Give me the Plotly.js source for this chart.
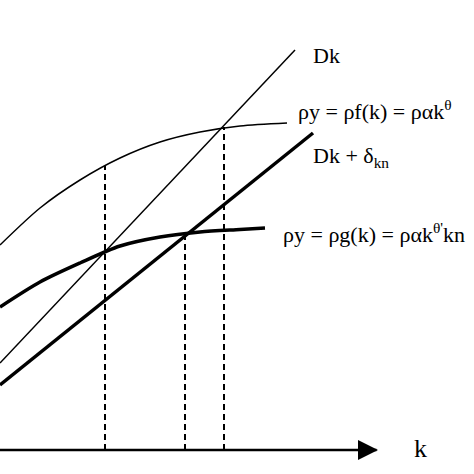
<!DOCTYPE html>
<html>
<head>
<meta charset="utf-8">
<script src="https://cdn.plot.ly/plotly-3.0.1.min.js"></script>
<style>html,body{margin:0;padding:0;background:#fff;}#chart{width:474px;height:474px;}</style>
</head>
<body>
<div id="chart"></div>
<script>
// Schematic values (k horizontal, value vertical)
var dkK = [0, 295];
var dkY = [111, 424];
var dkdK = [0, 313];
var dkdY = [89, 341];
var fK = [0, 40, 80, 120, 160, 200, 240, 287];
var fY = [229, 266, 294, 316, 332, 342, 348, 351];
var gK = [0, 40, 80, 120, 160, 200, 240, 265];
var gY = [167, 192, 211, 228, 237, 242, 244.5, 246];
var steadyK = [105, 185, 224];
var steadyTop = [308, 240, 347];
var axisY = 24;
var axisEnd = 378;

var labelDk = "Dk";
var labelF = "ρy = ρf(k) = ραk<sup>θ</sup>";
var labelDkd = "Dk + δ<sub>kn</sub>";
var labelG = "ρy = ρg(k) = ραk<sup>θ'</sup>kn";
var labelK = "k";

var traces = [];
traces.push({x: dkK, y: dkY, mode: 'lines', line: {color: '#000', width: 1.5}});
traces.push({x: dkdK, y: dkdY, mode: 'lines', line: {color: '#000', width: 3.5}});
traces.push({x: fK, y: fY, mode: 'lines', line: {color: '#000', width: 1.5, shape: 'spline', smoothing: 0.8}});
traces.push({x: gK, y: gY, mode: 'lines', line: {color: '#000', width: 3.5, shape: 'spline', smoothing: 0.8}});
for (var i = 0; i < steadyK.length; i++) {
  traces.push({x: [steadyK[i], steadyK[i]], y: [axisY, steadyTop[i]], mode: 'lines',
    line: {color: '#000', width: 2, dash: '6px,4px'}});
}

var fam = '"Liberation Serif", "Times New Roman", "DejaVu Serif", serif';
var font = {family: fam, size: 22, color: '#000'};
var annotations = [
  {x: 0, y: axisY, ax: axisEnd, ay: axisY, axref: 'x', ayref: 'y', xref: 'x', yref: 'y',
   text: '', showarrow: true, arrowhead: 0, arrowwidth: 2.5, arrowcolor: '#000'},
  {x: axisEnd, y: axisY, ax: axisEnd - 20, ay: axisY, axref: 'x', ayref: 'y', xref: 'x', yref: 'y',
   text: '', showarrow: true, arrowhead: 2, arrowsize: 1.6, arrowwidth: 2.5, arrowcolor: '#000'},
  {x: 311, y: 474 - 55, xref: 'x', yref: 'y', text: labelDk, showarrow: false, xanchor: 'left', yanchor: 'middle', font: font},
  {x: 296, y: 474 - 110, xref: 'x', yref: 'y', text: labelF, showarrow: false, xanchor: 'left', yanchor: 'middle', font: font},
  {x: 311, y: 474 - 157, xref: 'x', yref: 'y', text: labelDkd, showarrow: false, xanchor: 'left', yanchor: 'middle', font: font},
  {x: 281, y: 474 - 233, xref: 'x', yref: 'y', text: labelG, showarrow: false, xanchor: 'left', yanchor: 'middle', font: font},
  {x: 412, y: axisY + 2, xref: 'x', yref: 'y', text: labelK, showarrow: false, xanchor: 'left', yanchor: 'middle', font: {family: fam, size: 26, color: '#000'}}
];

var layout = {
  width: 474, height: 474,
  margin: {l: 0, r: 0, t: 0, b: 0},
  paper_bgcolor: '#fff', plot_bgcolor: '#fff',
  showlegend: false,
  font: {family: fam},
  xaxis: {range: [0, 474], visible: false, fixedrange: true},
  yaxis: {range: [0, 474], visible: false, fixedrange: true},
  annotations: annotations
};

Plotly.newPlot('chart', traces, layout, {staticPlot: true, displayModeBar: false});
</script>
</body>
</html>
